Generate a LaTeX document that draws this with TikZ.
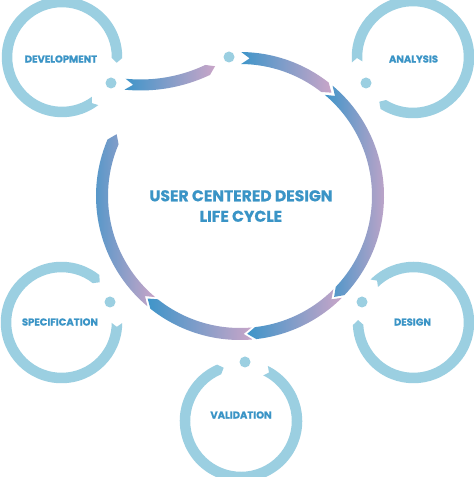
\documentclass[tikz,border=0pt]{standalone}
\usepackage{fontspec}
\newfontfamily\popfont{Poppins}[BoldFeatures={FakeBold=0.6}]
\definecolor{cblue}{HTML}{3F95C9}
\definecolor{cpink}{HTML}{C9A5C8}
\definecolor{ringc}{HTML}{9BCFE1}
\definecolor{txtc}{HTML}{3A94C6}
% #1 options, #2 centre, #3 radius, #4 width, #5 start angle (tail), #6 end angle (head), #7 tail notch depth, #8 head point depth (degrees)
\newcommand{\arcband}[8]{%
  \pgfmathsetmacro\ABro{#3+#4/2}%
  \pgfmathsetmacro\ABri{#3-#4/2}%
  \pgfmathsetmacro\ABsg{(#6>#5)*2-1}%
  \pgfmathsetmacro\ABBs{#6-(\ABsg)*(#8)}%
  \pgfmathsetmacro\ABAn{#5+(\ABsg)*(#7)}%
  \path[#1,shift={#2}] (#5:\ABro) arc[start angle=#5,end angle=\ABBs,radius=\ABro]
    -- (#6:#3) -- (\ABBs:\ABri) arc[start angle=\ABBs,end angle=#5,radius=\ABri]
    -- (\ABAn:#3) -- cycle;%
}
\tikzset{
  ringband/.style={fill=ringc},
  cycband/.style={left color=cblue,right color=cpink},
  dotnode/.style={circle,fill=ringc,inner sep=0pt,minimum size=11pt},
  lbl/.style={text=txtc,font=\popfont\bfseries\fontsize{10}{12}\selectfont,inner sep=0pt},
  title/.style={text=txtc,font=\popfont\bfseries\fontsize{15.6}{20.5}\selectfont,align=center,inner sep=0pt}
}
\begin{document}
\begin{tikzpicture}[x=1pt,y=1pt]
\useasboundingbox (0,0) rectangle (474,477);
\fill[white] (0,0) rectangle (474,477);
% small rings
\arcband{ringband}{(62,420)}{55}{10.5}{307}{-6}{4}{5}
\arcband{ringband}{(413,420)}{56}{10.5}{185}{-127}{4}{5}
\arcband{ringband}{(413.5,154.5)}{55.5}{10.5}{135}{-182.5}{4}{5}
\arcband{ringband}{(241,56)}{56}{10.5}{64}{-252}{4}{5}
\arcband{ringband}{(61.5,154.5)}{55.5}{10.5}{-0.5}{-313.5}{4}{5}
% big cycle
\arcband{cycband}{(240,281)}{138}{12}{89.5}{48.5}{3.5}{3.5}
\arcband{cycband}{(240,281)}{138}{12}{50}{-47}{3.5}{3.5}
\arcband{cycband}{(240,281)}{138}{12}{-45}{-87}{3.5}{3.5}
\arcband{cycband}{(240,281)}{138}{12}{-85}{-132}{3.5}{3.5}
\arcband{cycband}{(240,281)}{138}{12}{-130}{-206.6}{3.5}{3.5}
% connector from development
\arcband{cycband}{(140.6,549)}{157}{11}{-95.7}{-61.7}{3}{3}
% dots
\node[dotnode] (d1) at (111,394) {};
\node[dotnode] (d2) at (229,420) {};
\node[dotnode] (d3) at (366,394) {};
\node[dotnode] (d4) at (362,175) {};
\node[dotnode] (d5) at (245,115) {};
\node[dotnode] (d6) at (110,175) {};
% labels
\node[lbl] (dev) at (61,418) {DEVELOPMENT};
\node[lbl] (ana) at (413.5,418) {ANALYSIS};
\node[lbl] (des) at (412.5,155) {DESIGN};
\node[lbl] (val) at (241,62) {VALIDATION};
\node[lbl] (spe) at (60,155) {SPECIFICATION};
\node[title] (ttl) at (241,271) {USER CENTERED DESIGN\\LIFE CYCLE};
\end{tikzpicture}
\end{document}
